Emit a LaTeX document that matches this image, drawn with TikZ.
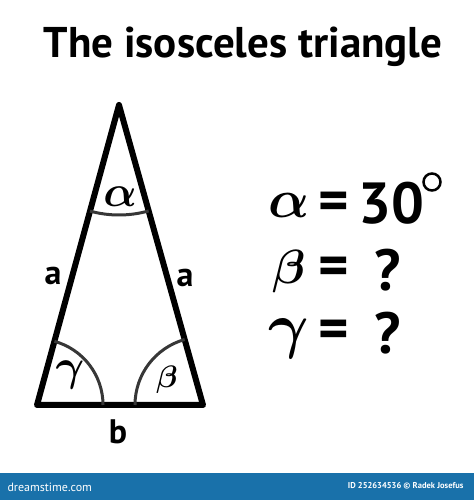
\RequirePackage{fix-cm}
\documentclass[tikz,border=0pt]{standalone}
\usepackage{fontspec}
\setsansfont{PT Sans}
\usetikzlibrary{angles}
\definecolor{barblue}{RGB}{25,113,170}
\definecolor{arcgray}{RGB}{55,55,55}
\tikzset{
  side/.style={line width=6pt, line join=round},
  anglearc/.style={draw=arcgray, line width=3pt},
  sidelbl/.style={font=\sffamily\bfseries\fontsize{34}{34}\selectfont},
  eqn/.style={inner sep=0pt, font=\sffamily\bfseries\fontsize{58}{58}\selectfont},
  greek/.style={inner sep=0pt, font=\boldmath}
}
\begin{document}
\begin{tikzpicture}[x=1pt,y=1pt]
    \useasboundingbox (0,0) rectangle (474,500);

    % Title
    \node (title) at (243,453) {\sffamily\bfseries\fontsize{43}{43}\selectfont The isosceles triangle};

    % Triangle corners
    \coordinate (A) at (119,395);
    \coordinate (B) at (37,95);
    \coordinate (C) at (203,95);
    \draw[side] (A) -- (B) -- (C) -- cycle;

    % Angle arcs
    \pic[anglearc, angle radius=110pt] {angle=B--A--C};
    \pic[anglearc, angle radius=66pt] {angle=C--B--A};
    \pic[anglearc, angle radius=68pt] {angle=A--C--B};

    % Angle names inside
    \node[greek] (inalpha) at (120,303) {\fontsize{44}{44}\selectfont$\alpha$};
    \node[greek] (ingamma) at (70,125) {\fontsize{44}{44}\selectfont$\gamma$};
    \node[greek] (inbeta) at (167,120) {\fontsize{31}{31}\selectfont$\beta$};

    % Side names
    \node[sidelbl] (sidea1) at (53,224) {a};
    \node[sidelbl] (sidea2) at (185,222) {a};
    \node[sidelbl] (sideb) at (118,68) {b};

    % Given and unknown angles
    \node[greek] (ralpha) at (289,294) {\fontsize{54}{54}\selectfont$\alpha$};
    \node[eqn] (eq1) at (334,294) {=};
    \node[eqn] (val1) at (391,297) {30};
    \node[circle, draw, line width=2.5pt, minimum size=17pt, inner sep=0pt] (deg) at (432,318) {};

    \node[greek] (rbeta) at (289,228) {\fontsize{48}{48}\selectfont$\beta$};
    \node[eqn] (eq2) at (334,229) {=};
    \node[eqn] (val2) at (388,230) {?};

    \node[greek] (rgamma) at (289,161) {\fontsize{62}{62}\selectfont$\gamma$};
    \node[eqn] (eq3) at (334,166) {=};
    \node[eqn] (val3) at (388,167) {?};

    % Bottom bar
    \fill[barblue] (0,0) rectangle (474,27);
    \node[anchor=west, white, font=\sffamily\fontsize{12}{12}\selectfont] (site) at (4,13) {dreamstime.com};
    \node[anchor=east, white, font=\sffamily\bfseries\fontsize{8.5}{8.5}\selectfont] (credit) at (467,14) {ID 252634536 \textcopyright{} Radek Josefus};

\end{tikzpicture}
\end{document}
